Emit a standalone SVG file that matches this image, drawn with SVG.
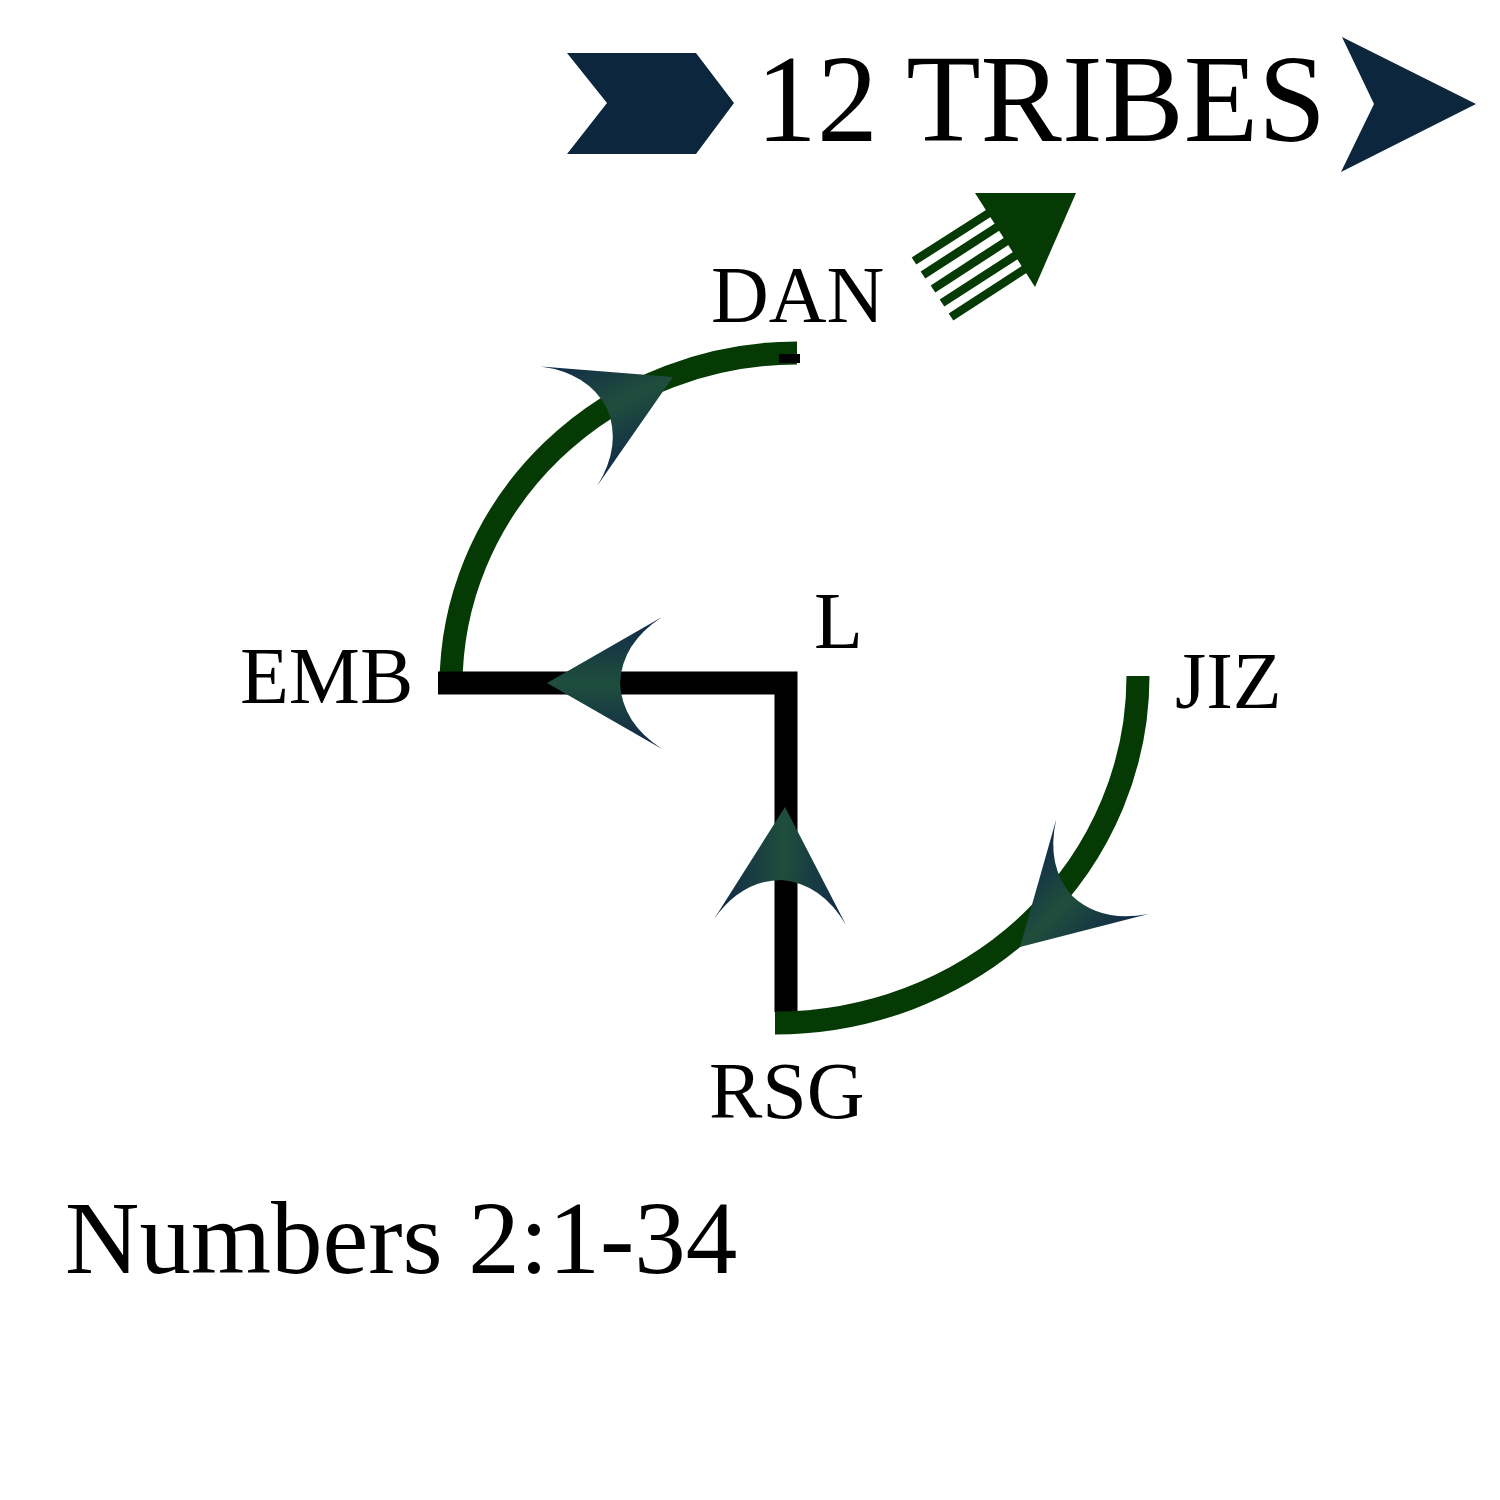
<svg xmlns="http://www.w3.org/2000/svg" width="1500" height="1500" viewBox="0 0 1500 1500">
  <style>
    .lbl { font-family: "Liberation Serif", "Times New Roman", serif; fill: #000; }
    .arc { fill: none; stroke: #053a05; stroke-width: 23; stroke-linecap: butt; }
    .blk { fill: none; stroke: #000; stroke-width: 23; stroke-linejoin: miter; stroke-linecap: butt; }
    .stripe { stroke: #053a05; stroke-width: 8.5; stroke-linecap: butt; }
    .navy { fill: #0b263d; }
  </style>
  <defs>
    <linearGradient id="dartGrad" x1="0" y1="0" x2="0" y2="1">
      <stop offset="0" stop-color="#11284a"/>
      <stop offset="0.5" stop-color="#1f4e3c"/>
      <stop offset="1" stop-color="#11284a"/>
    </linearGradient>
    <path id="dart" d="M0,0 L-115,-66 Q-75,-40 -73,0 Q-75,40 -115,66 Z" fill="url(#dartGrad)"/>
  </defs>

  <g id="title">
    <polygon class="navy" points="567,53 696,53 734,103 696,154 567,154 607,103"/>
    <text class="lbl" x="756" y="141" font-size="124" textLength="570" lengthAdjust="spacingAndGlyphs">12 TRIBES</text>
    <polygon class="navy" points="1342,37 1476,104 1341,172 1374,104"/>
  </g>

  <g id="striped-arrow">
    <line class="stripe" x1="914" y1="261" x2="1000" y2="206"/>
    <line class="stripe" x1="923" y1="275" x2="1008" y2="220"/>
    <line class="stripe" x1="933" y1="289" x2="1016" y2="235"/>
    <line class="stripe" x1="942" y1="303" x2="1024" y2="250"/>
    <line class="stripe" x1="951" y1="317" x2="1031" y2="265"/>
    <polygon fill="#053a05" points="975,193 1076,193 1035,287"/>
  </g>

  <g id="connectors">
    <path class="arc" d="M 451 686 A 346 333 0 0 1 797 353"/>
    <rect x="779" y="354" width="21" height="9" fill="#000"/>
    <polyline class="blk" points="438,683 786,683 786,1012"/>
    <path class="arc" d="M 775 1023 A 363 347 0 0 0 1138 676"/>
    <use href="#dart" transform="translate(673,377) rotate(-25.3)"/>
    <use href="#dart" transform="translate(547,683) rotate(180)"/>
    <use href="#dart" transform="translate(785,807) rotate(-87.5)"/>
    <use href="#dart" transform="translate(1020,947) rotate(135.7)"/>
  </g>

  <g id="node-dan"><text class="lbl" x="711" y="322" font-size="80">DAN</text></g>
  <g id="node-l"><text class="lbl" x="814" y="648" font-size="80">L</text></g>
  <g id="node-emb"><text class="lbl" x="240" y="703" font-size="80">EMB</text></g>
  <g id="node-jiz"><text class="lbl" x="1175" y="708" font-size="80">JIZ</text></g>
  <g id="node-rsg"><text class="lbl" x="709" y="1118" font-size="80">RSG</text></g>
  <g id="caption"><text class="lbl" x="65" y="1273" font-size="103">Numbers 2:1-34</text></g>
</svg>
